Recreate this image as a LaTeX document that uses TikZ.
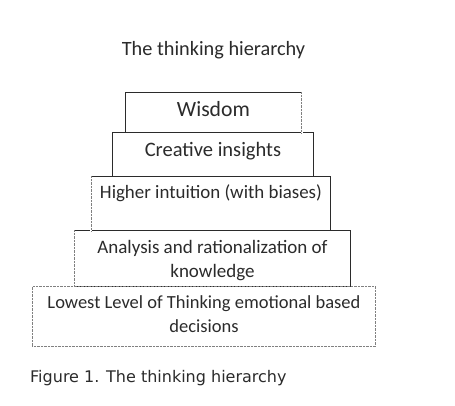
\documentclass[tikz,border=0pt]{standalone}
\usepackage{fontspec}
\usepackage{tikz}
\usetikzlibrary{positioning}
\newfontfamily\boxfont{Carlito}
\newfontfamily\capfont{DejaVu Sans}
\definecolor{inkgray}{HTML}{2B2B2B}

\tikzset{
    level/.style={draw=inkgray, line width=0.9pt, anchor=north west, inner sep=0pt},
    dotlevel/.style={level, draw=gray, dash pattern=on 0.7pt off 0.7pt},
    dotedge/.style={gray, line width=0.9pt, dash pattern=on 0.7pt off 0.7pt},
    leveltext/.style={anchor=base, inner sep=0pt, text=inkgray,
        font=\boxfont\fontsize{#1}{24}\selectfont},
    leveltext/.default=18.5
}

\begin{document}
\begin{tikzpicture}[x=1pt,y=-1pt]
\useasboundingbox[fill=white] (0,0) rectangle (455,406);

\node[anchor=base, text=inkgray, font=\boxfont\fontsize{20.3}{24}\selectfont] (title) at (213.5,56) {The thinking hierarchy};

% the five levels, top to bottom
\node[level, minimum width=176pt, minimum height=40pt] (wisdom) at (125,92) {};
\node[level, minimum width=201pt, minimum height=44pt] (creative) at (112,132) {};
\node[level, minimum width=239pt, minimum height=54pt] (intuition) at (91,176) {};
\node[level, minimum width=276pt, minimum height=56pt] (analysis) at (74,230) {};
\node[dotlevel, minimum width=343pt, minimum height=60pt] (lowest) at (32,286) {};

% dotted edges
\draw[white, line width=1.2pt] (wisdom.north east) -- (wisdom.south east);
\draw[dotedge] (wisdom.north east) -- (wisdom.south east);
\draw[white, line width=1.2pt] (intuition.north west) -- (intuition.south west);
\draw[dotedge] (intuition.north west) -- (intuition.south west);
\draw[white, line width=1.2pt] (analysis.north west) -- (analysis.south west);
\draw[dotedge] (analysis.north west) -- (analysis.south west);

\node[leveltext=21.7] (wisdomtext) at ([yshift=-25pt]wisdom.north) {Wisdom};
\node[leveltext=20.5] (creativetext) at ([yshift=-25pt]creative.north) {Creative insights};
\node[leveltext=18.9] (intuitiontext) at ([yshift=-23pt]intuition.north) {Higher intuition (with biases)};
% base of a two-line node is the second line
\node[leveltext=19, align=center] (analysistext) at ([yshift=-47pt]analysis.north) {Analysis and rationalization of\\knowledge};
\node[leveltext, align=center] (lowesttext) at ([yshift=-46pt]lowest.north) {Lowest Level of Thinking emotional based\\decisions};

\node[anchor=base west, inner sep=0pt, text=inkgray, font=\capfont\fontsize{16}{20}\selectfont] (caption) at (30,382) {Figure 1. The thinking hierarchy};
\end{tikzpicture}
\end{document}
